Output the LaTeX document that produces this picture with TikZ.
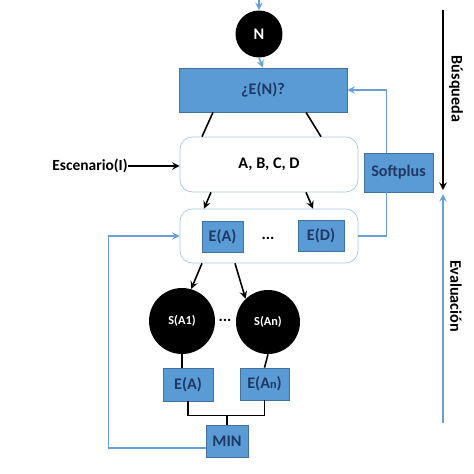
\documentclass[tikz,border=0pt]{standalone}
\usepackage{fontspec}
\setmainfont{Carlito}
\usetikzlibrary{arrows,calc}
\definecolor{boxblue}{HTML}{5B9BD5}
\definecolor{boxedge}{HTML}{41719C}
\definecolor{navy}{HTML}{1F3864}
\definecolor{softedge}{HTML}{A9C4E0}
\definecolor{lineblue}{HTML}{6A9FD4}
\newcommand\labfont{\bfseries\fontsize{9.2}{11}\selectfont}
\tikzset{
  bluebox/.style={draw=boxedge, fill=boxblue, text=navy, font=\labfont, inner sep=0pt},
  roundbox/.style={draw=softedge, rounded corners=7pt, fill=white, inner sep=0pt},
  blackdot/.style={circle, fill=black, text=white, font=\labfont, inner sep=0pt},
  feed/.style={lineblue, line width=0.9pt},
  link/.style={black, line width=0.9pt}
}
\begin{document}
\begin{tikzpicture}[>=stealth, x=0.02cm, y=-0.02cm]
    \useasboundingbox (0,0) rectangle (474,474);
    % Busqueda
    \node (N) at (259,34) [blackdot, minimum size=0.94cm] {N};
    \node (EN) at (263,90) [bluebox, minimum width=3.36cm, minimum height=0.88cm] {¿E(N)?};
    \node (ABCD) at (269,164.5) [roundbox, minimum width=3.56cm, minimum height=1.1cm, font=\labfont] {A, B, C, D};
    \node (esc) at (128,166) [anchor=east, font=\bfseries\fontsize{8.8}{11}\selectfont, inner sep=0pt] {Escenario(I)};
    \node (soft) at (398.5,172.5) [bluebox, minimum width=1.38cm, minimum height=0.78cm] {Softplus};
    \coordinate (src) at (259,0);

    \draw[feed, ->] (src) -- (N.north);
    \draw[feed, ->] (N.south) -- (EN.north);
    \draw[link] ($(EN.south)+(-50,0)$) -- ($(ABCD.north)+(-67,0)$);
    \draw[link] ($(EN.south)+(43,0)$) -- ($(ABCD.north)+(52,0)$);
    \draw[link, ->] (esc.east) -- (ABCD.west |- esc.east);

    % Evaluacion
    \node (eval) at (269,236) [roundbox, minimum width=3.56cm, minimum height=1.08cm] {};
    \node (EA) at (222.5,236.5) [bluebox, minimum width=0.82cm, minimum height=0.62cm] {E(A)};
    \node (ED) at (321,235.5) [bluebox, minimum width=0.92cm, minimum height=0.62cm] {E(D)};
    \node (dotsA) at (268,238) [font=\labfont] {...};
    \draw[link, ->] ($(ABCD.south)+(-58,0)$) -- ($(eval.north)+(-65,0)$);
    \draw[link, ->] ($(ABCD.south)+(37,0)$) -- ($(eval.north)+(44,0)$);

    \node (SA1) at (182,321) [blackdot, minimum size=1.32cm, font=\bfseries\scriptsize] {S(A1)};
    \node (SAn) at (268,322) [blackdot, minimum size=1.28cm, font=\bfseries\scriptsize] {S(An)};
    \node (dotsS) at (225,320) [font=\labfont] {...};
    \draw[link, ->] ($(eval.south)+(-67,0)$) -- (SA1.74);
    \draw[link, ->] ($(eval.south)+(-34,0)$) -- (SAn.134);

    \node (EA2) at (188,384.5) [bluebox, minimum width=1cm, minimum height=0.66cm] {E(A)};
    \node (EAn) at (264.5,384) [bluebox, minimum width=0.98cm, minimum height=0.64cm] {E(A{\scriptsize n})};
    \node (MIN) at (227,441) [bluebox, minimum width=0.84cm, minimum height=0.64cm] {MIN};
    \draw[link] (SA1.south) -- (SA1.south |- EA2.north);
    \draw[link] (SAn.south) -- (EAn.north);
    \draw[link] (EA2.south) -- ++(0,14) -| (EAn.south);
    \draw[link] (MIN.north) -- ++(0,-10);

    % feedback
    \draw[feed, ->] ($(MIN.west)+(0,7)$) -- ++(-97,0) |- (eval.west);
    \draw[feed] (eval.east) -| ($(soft.south)+(-12,0)$);
    \draw[feed, ->] ($(soft.north)+(-12,0)$) |- (EN.east);

    % phases
    \coordinate (bTop) at (443,10);
    \coordinate (bBot) at (443,190);
    \coordinate (eTop) at (443,194);
    \coordinate (eBot) at (443,423);
    \draw[link, ->] (bTop) -- (bBot);
    \draw[feed, ->] (eBot) -- (eTop);
    \node (busq) at (456,89) [rotate=-90, font=\labfont] {Búsqueda};
    \node (evalu) at (456,296) [rotate=-90, font=\labfont] {Evaluación};
\end{tikzpicture}
\end{document}
